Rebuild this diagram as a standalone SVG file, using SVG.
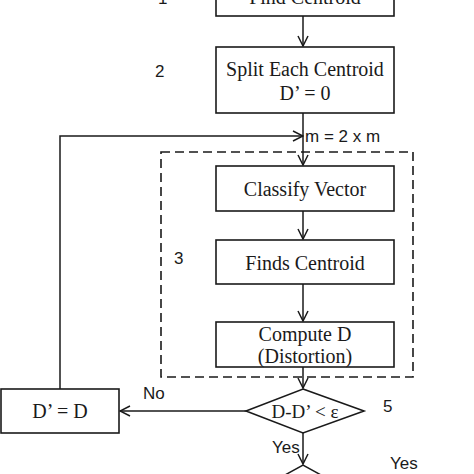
<svg xmlns="http://www.w3.org/2000/svg" width="474" height="474" viewBox="0 0 474 474">
<defs>
<style>
.box{fill:#fff;stroke:#1a1a1a;stroke-width:1.6}
.t{font-family:"Liberation Serif","Times New Roman",serif;font-size:20px;fill:#1a1a1a;text-anchor:middle}
.s{font-family:"Liberation Sans",Arial,sans-serif;font-size:17px;fill:#1a1a1a}
.ln{fill:none;stroke:#1a1a1a;stroke-width:1.5}
.dash{fill:none;stroke:#1a1a1a;stroke-width:1.6;stroke-dasharray:9,5}
</style>
<marker id="ah" viewBox="0 0 12 12" refX="11" refY="6" markerWidth="12" markerHeight="12" markerUnits="userSpaceOnUse" orient="auto">
<path d="M1,1 L11,6 L1,11" fill="none" stroke="#1a1a1a" stroke-width="1.5"/>
</marker>
</defs>
<rect width="474" height="474" fill="#fff"/>
<rect class="dash" x="161" y="152" width="252" height="225"/>
<g id="connectors">
<line class="ln" x1="303" y1="16" x2="303" y2="46" marker-end="url(#ah)"/>
<line class="ln" x1="303" y1="113" x2="303" y2="165" marker-end="url(#ah)"/>
<polyline class="ln" points="60,389 60,136 303,136" marker-end="url(#ah)"/>
<line class="ln" x1="303" y1="211" x2="303" y2="239" marker-end="url(#ah)"/>
<line class="ln" x1="303" y1="284" x2="303" y2="321" marker-end="url(#ah)"/>
<line class="ln" x1="303" y1="367" x2="303" y2="388" marker-end="url(#ah)"/>
<line class="ln" x1="246" y1="411" x2="120" y2="411" marker-end="url(#ah)"/>
<line class="ln" x1="303" y1="433" x2="303" y2="464" marker-end="url(#ah)"/>
</g>
<g id="n1">
<rect class="box" x="216" y="-30" width="178" height="46"/>
<text class="t" x="305" y="4">Find Centroid</text>
<text class="s" x="158" y="4">1</text>
</g>
<g id="n2">
<rect class="box" x="216" y="47" width="178" height="66"/>
<text class="t" x="305" y="76">Split Each Centroid</text>
<text class="t" x="305" y="100">D’ = 0</text>
<text class="s" x="155" y="77">2</text>
</g>
<text class="s" x="305" y="142">m = 2 x m</text>
<g id="n3">
<rect class="box" x="216" y="166" width="178" height="45"/>
<text class="t" x="305" y="196">Classify Vector</text>
</g>
<g id="n4">
<rect class="box" x="216" y="240" width="178" height="44"/>
<text class="t" x="305" y="270">Finds Centroid</text>
</g>
<text class="s" x="174" y="264">3</text>
<g id="n5">
<rect class="box" x="216" y="322" width="178" height="45"/>
<text class="t" x="305" y="341">Compute D</text>
<text class="t" x="305" y="363">(Distortion)</text>
</g>
<g id="n6">
<polygon class="box" points="303,389 364,411 303,433 246,411"/>
<text class="t" x="305" y="418" style="font-size:19px">D-D’ &lt; ε</text>
<text class="s" x="383" y="412">5</text>
</g>
<g id="n7">
<rect class="box" x="1" y="389" width="118" height="44"/>
<text class="t" x="60" y="418">D’ = D</text>
</g>
<g id="n8">
<polyline class="ln" points="285,475 303,465 321,475"/>
</g>
<text class="s" x="143" y="399">No</text>
<text class="s" x="272" y="453">Yes</text>
<text class="s" x="390" y="469">Yes</text>
</svg>
